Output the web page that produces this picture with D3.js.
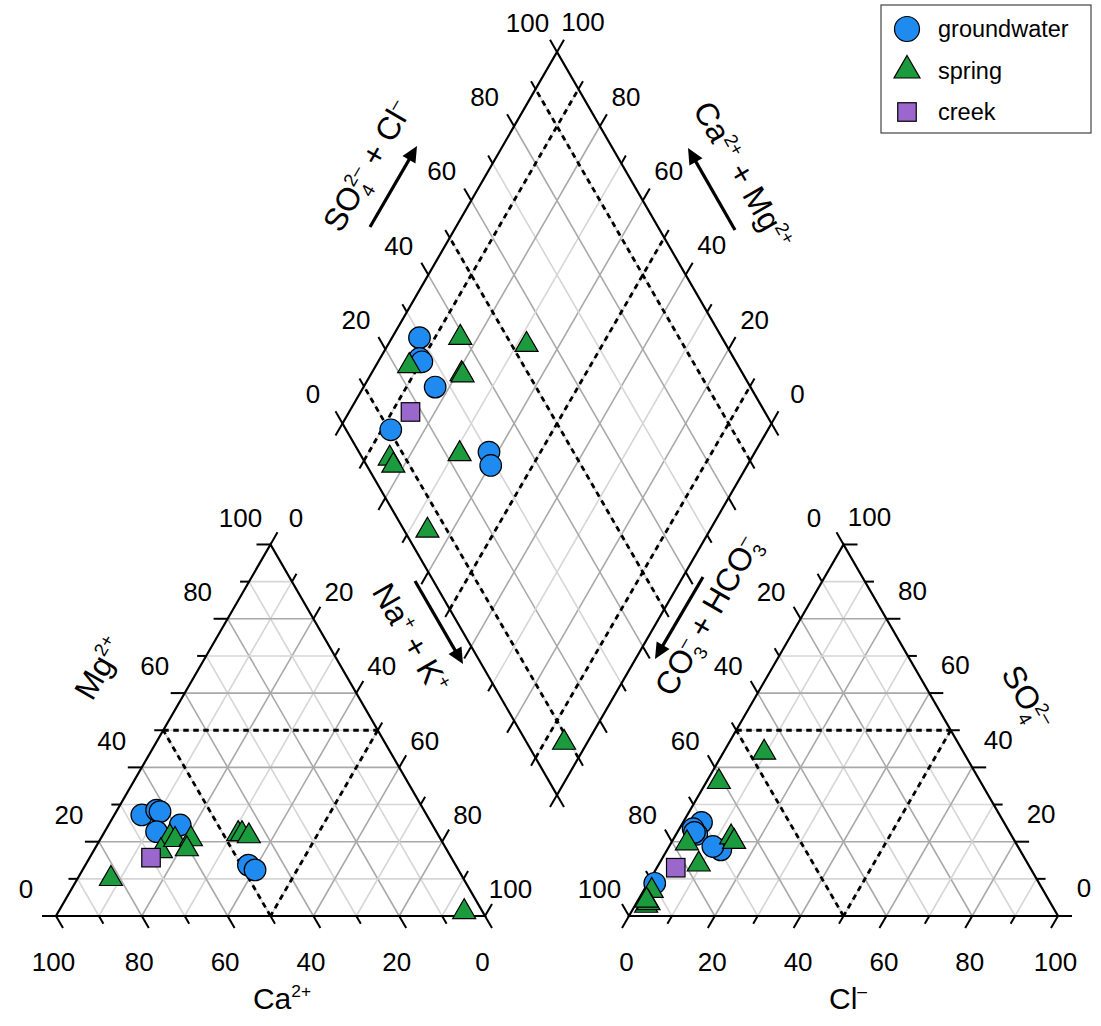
<!DOCTYPE html>
<html><head><meta charset="utf-8">
<script src="https://cdn.jsdelivr.net/npm/d3@7"></script>
<style>
body{margin:0;background:#fff}
svg{display:block}
text{font-family:"Liberation Sans",Arial,Helvetica,sans-serif;fill:#000}
</style>
</head><body>
<svg id="chart" width="1101" height="1026"></svg>
<script>
// ---------------- data (percent of meq) ----------------
const sampleType = ["groundwater","groundwater","groundwater","groundwater","groundwater","groundwater","groundwater",
  "spring","spring","spring","spring","spring","spring","spring","spring","spring","spring","creek"];
const mgPct  = [27.2, 28.5, 28.1, 24.5, 22.7, 13.7, 12.4,   1.1, 10.0, 22.1, 22.1, 21.5, 21.3, 17.5, 20.5, 20.7, 18.0,  15.7];
const naKPct = [ 6.4,  9.2, 10.2, 16.7, 12.1, 38.0, 40.2,  94.6,  7.8, 31.4, 32.3, 34.2, 15.9, 15.7, 17.5, 21.1, 21.5,  14.3];
const so4Pct = [25.2, 23.5, 22.0, 22.5,  8.8, 17.8, 18.7,   6.8, 19.6, 13.9, 44.0,  2.8, 36.1,  3.5,  4.2, 21.2, 20.0,  13.0];
const clPct  = [ 4.3,  3.2,  4.8,  4.0,  1.6, 12.5, 10.2,   1.9,  3.7,  9.3,  9.5,  2.6,  2.9,  2.8,  2.0, 13.2, 14.5,   4.4];
const tickValues = [0,10,20,30,40,50,60,70,80,90,100];
const labelValues = [0,20,40,60,80,100];
const dashedDiamond = [10,50,90];
const legendLabels = ["groundwater","spring","creek"];

// ---------------- layout ----------------
const svg = d3.select("#chart");
const side = 429, R3 = Math.sqrt(3)/2;
const L0 = [56,916], A0 = [629,916], D0 = [557,795];
const s = d3.scaleLinear().domain([0,100]).range([0,side]);

const cat = (mg,na) => [L0[0]+s(na)+s(mg)/2, L0[1]-s(mg)*R3];
const ani = (so4,cl) => [A0[0]+s(cl)+s(so4)/2, A0[1]-s(so4)*R3];
const dia = (u,v) => [D0[0]+(s(u)-s(v))/2, D0[1]-(s(u)+s(v))*R3];

const color = {groundwater:"#1f8bf0", spring:"#1c9a3e", creek:"#9a68cc"};
const gMajor = "#a9a9a9", gMinor = "#d6d6d6";

const gGrid = svg.append("g"), gDash = svg.append("g"), gAxis = svg.append("g"),
      gTxt = svg.append("g"), gPts = svg.append("g");

function seg(g,a,b,stroke,w,dash){
  const l = g.append("line").attr("x1",a[0]).attr("y1",a[1]).attr("x2",b[0]).attr("y2",b[1])
    .attr("stroke",stroke).attr("stroke-width",w);
  if(dash) l.attr("stroke-dasharray",dash);
  return l;
}

// grid
tickValues.filter(k=>k>0&&k<100).forEach(k=>{
  const c = k%20===0 ? gMajor : gMinor;
  seg(gGrid,cat(k,0),cat(k,100-k),c,1.6);
  seg(gGrid,cat(0,k),cat(100-k,k),c,1.6);
  seg(gGrid,cat(0,100-k),cat(100-k,0),c,1.6);
  seg(gGrid,ani(k,0),ani(k,100-k),c,1.6);
  seg(gGrid,ani(0,k),ani(100-k,k),c,1.6);
  seg(gGrid,ani(0,100-k),ani(100-k,0),c,1.6);
  seg(gGrid,dia(k,0),dia(k,100),c,1.6);
  seg(gGrid,dia(0,k),dia(100,k),c,1.6);
});

// dashed
const dashA = "5.5,4.5";
[[cat(50,0),cat(50,50)],[cat(50,50),cat(0,50)],[cat(0,50),cat(50,0)],
 [ani(50,0),ani(50,50)],[ani(50,50),ani(0,50)],[ani(0,50),ani(50,0)]]
 .forEach(p=>seg(gDash,p[0],p[1],"#000",2.8,dashA));
dashedDiamond.forEach(k=>{
  seg(gDash,dia(k,0),dia(k,100),"#000",2.8,dashA);
  seg(gDash,dia(0,k),dia(100,k),"#000",2.8,dashA);
});

// outlines
const poly = pts => gAxis.append("polygon").attr("points",pts.map(p=>p.join(",")).join(" "))
   .attr("fill","none").attr("stroke","#000").attr("stroke-width",2.2).attr("stroke-linejoin","miter");
poly([cat(0,0),cat(0,100),cat(100,0)]);
poly([ani(0,0),ani(0,100),ani(100,0)]);
poly([dia(0,0),dia(100,0),dia(100,100),dia(0,100)]);

// ticks
const dirs = {W:[-1,0],E:[1,0],UL:[-0.5,-R3],UR:[0.5,-R3],DL:[-0.5,R3],DR:[0.5,R3]};
function tick(p,d,k){
  const len = k%20===0 ? 14 : 9;
  seg(gAxis,p,[p[0]+d[0]*len,p[1]+d[1]*len],"#000",2);
}
tickValues.forEach(k=>{
  tick(cat(k,0),dirs.W,k);            // Mg
  tick(cat(100-k,k),dirs.UR,k);       // Na+K
  tick(cat(0,100-k),dirs.DR,k);       // Ca
  tick(ani(100-k,0),dirs.UL,k);       // CO3+HCO3
  tick(ani(k,100-k),dirs.E,k);        // SO4
  tick(ani(0,k),dirs.DL,k);           // Cl
  tick(dia(k,100),dirs.UL,k);
  tick(dia(100,k),dirs.UR,k);
  tick(dia(0,k),dirs.DL,k);
  tick(dia(k,0),dirs.DR,k);
});

// tick labels
const fs = 26;
function lab(p,dx,dy,t){
  gTxt.append("text").attr("x",p[0]+dx).attr("y",p[1]+dy).attr("dy","0.36em")
    .attr("text-anchor","middle").attr("font-size",fs).text(t);
}
labelValues.forEach(k=>{
  lab(cat(k,0),-30,-27,k);
  lab(cat(100-k,k),25.5,-27,k);
  lab(cat(0,100-k),-2.5,46,k);
  lab(ani(100-k,0),-29.5,-27,k);
  lab(ani(k,100-k),26,-28,k);
  lab(ani(0,k),-2.5,46,k);
  lab(dia(k,100),-29.5,-29.5,k);
  lab(dia(100,k),26,-30,k);
});

// axis titles
function title(cx,cy,ang,size,parts){
  const g = gTxt.append("g").attr("transform",`translate(${cx},${cy}) rotate(${ang})`);
  const t = g.append("text").attr("text-anchor","middle").attr("y",size*0.35).attr("font-size",size);
  let level = 0;
  parts.forEach(pt=>{
    const sp = t.append("tspan").text(pt.t);
    let target = pt.sub ? 0.25*size : pt.sup ? -0.38*size : 0;
    sp.attr("dy", target-level); level = target;
    if(pt.sub||pt.sup) sp.attr("font-size",size*0.58);
    if(pt.dx) sp.attr("dx",pt.dx);
  });
}
title(282,998,0,30,[{t:"Ca"},{t:"2+",sup:1}]);
title(848,998,0,30,[{t:"Cl"},{t:"–",sup:1}]);
title(99,668,-60,32,[{t:"Mg"},{t:"2+",sup:1}]);
title(411,638,60,32,[{t:"Na"},{t:"+",sup:1},{t:" + K"},{t:"+",sup:1}]);
title(367,166,-60,32,[{t:"SO"},{t:"4",sub:1},{t:"2–",sup:1,dx:-10},{t:" + Cl"},{t:"–",sup:1}]);
title(743,175,60,32,[{t:"Ca"},{t:"2+",sup:1},{t:" + Mg"},{t:"2+",sup:1}]);
title(707,616,-60,32,[{t:"CO"},{t:"3",sub:1},{t:"–",sup:1,dx:-10},{t:" + HCO"},{t:"3",sub:1},{t:"–",sup:1,dx:-10}]);
title(1027,697,60,32,[{t:"SO"},{t:"4",sub:1},{t:"2–",sup:1,dx:-10}]);

// arrows
function arrow(a,b){
  const dx=b[0]-a[0], dy=b[1]-a[1], L=Math.hypot(dx,dy), ux=dx/L, uy=dy/L;
  const hl=16, hw=7.5;
  const base=[b[0]-ux*hl,b[1]-uy*hl];
  seg(gTxt,a,[base[0]+ux*2,base[1]+uy*2],"#000",3.2);
  gTxt.append("polygon").attr("fill","#000").attr("points",
    [b,[base[0]-uy*hw,base[1]+ux*hw],[base[0]+uy*hw,base[1]-ux*hw]].map(p=>p.join(",")).join(" "));
}
arrow([370,227],[417,146]);
arrow([735,230],[688,148]);
arrow([415,581],[463,664]);
arrow([703,577],[655,659]);

// markers
const triPath = sz => { const hh=sz*R3; return `M0,${-2*hh/3}L${sz/2},${hh/3}L${-sz/2},${hh/3}Z`; };
function marker(g,type,p,big){
  if(type==="groundwater"){
    g.append("circle").attr("cx",p[0]).attr("cy",p[1]).attr("r",big?12.5:10.8)
      .attr("fill",color.groundwater).attr("stroke","#000").attr("stroke-width",1.2);
  } else if(type==="spring"){
    g.append("path").attr("d",triPath(big?26:23)).attr("transform",`translate(${p[0]},${p[1]})`)
      .attr("fill",color.spring).attr("stroke","#000").attr("stroke-width",1.2);
  } else {
    const z = 18.5;
    g.append("rect").attr("x",p[0]-z/2).attr("y",p[1]-z/2).attr("width",z).attr("height",z)
      .attr("fill",color.creek).attr("stroke","#000").attr("stroke-width",1.2);
  }
}
const order = ["groundwater","spring","creek"];
order.forEach(tp=>{
  sampleType.forEach((t,i)=>{
    if(t!==tp) return;
    const mg=mgPct[i], na=naKPct[i], so4=so4Pct[i], cl=clPct[i];
    marker(gPts,t,cat(mg,na));
    marker(gPts,t,ani(so4,cl));
    marker(gPts,t,dia(so4+cl, 100-na));
  });
});

// legend
const lg = svg.append("g");
lg.append("rect").attr("x",881).attr("y",5).attr("width",210).attr("height",128)
  .attr("fill","#fff").attr("stroke","#444").attr("stroke-width",1.2);
legendLabels.forEach((t,i)=>{
  const y = 29 + i*41.5;
  marker(lg,t,[907,y],true);
  lg.append("text").attr("x",938).attr("y",y).attr("dy","0.35em").attr("font-size",23.5).text(t);
});
</script>
</body></html>
